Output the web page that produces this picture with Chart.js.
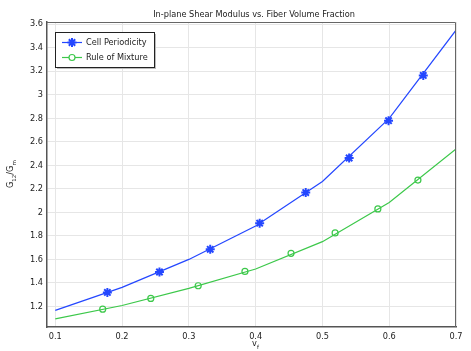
<!DOCTYPE html>
<html>
<head>
<meta charset="utf-8">
<script src="https://cdn.jsdelivr.net/npm/chart.js@4"></script>
<style>
  html, body { margin: 0; padding: 0; background: #fff; }
  #wrap { width: 471px; height: 351px; }
</style>
</head>
<body>
<div id="wrap"><canvas id="chart" width="471" height="351"></canvas></div>
<script>
// curve vertices (fiber volume fraction)
const vf = [0.1, 0.2, 0.3, 0.4, 0.5, 0.6, 0.7];
const cellPeriodicity = [1.166, 1.362, 1.600, 1.885, 2.263, 2.800, 3.550];
const ruleOfMixture = [1.094, 1.208, 1.353, 1.518, 1.751, 2.084, 2.539];

// marker positions along each curve
const cellMarkX = [0.178, 0.256, 0.332, 0.406, 0.475, 0.540, 0.599, 0.651];
const cellMarkY = [1.319, 1.493, 1.686, 1.908, 2.169, 2.463, 2.780, 3.165];
const romMarkX = [0.171, 0.243, 0.314, 0.384, 0.453, 0.519, 0.583, 0.643];
const romMarkY = [1.177, 1.268, 1.376, 1.498, 1.652, 1.825, 2.030, 2.275];

const xTicks = [0.1, 0.2, 0.3, 0.4, 0.5, 0.6, 0.7];
const yTicks = [1.2, 1.4, 1.6, 1.8, 2, 2.2, 2.4, 2.6, 2.8, 3, 3.2, 3.4, 3.6];

const blue = '#2447ff';
const green = '#3cc84a';
const font = 'DejaVu Sans';
const fs = 8.2;

const pts = (xs, ys) => xs.map((x, i) => ({x: x, y: ys[i]}));

// title, axis titles with subscripts, frame and legend box
const decor = {
  id: 'decor',
  afterDraw(chart) {
    const c = chart.ctx, a = chart.chartArea;
    c.save();
    // frame top/right
    c.strokeStyle = '#666';
    c.lineWidth = 1;
    c.beginPath();
    c.moveTo(a.left, a.top + 0.5);
    c.lineTo(a.right - 0.5, a.top + 0.5);
    c.lineTo(a.right - 0.5, a.bottom);
    c.stroke();

    c.fillStyle = '#222';
    c.textBaseline = 'alphabetic';
    c.font = fs + 'px ' + font;
    c.textAlign = 'center';
    c.fillText('In-plane Shear Modulus vs. Fiber Volume Fraction', 254, 17);

    // x title: v_f
    c.textAlign = 'left';
    c.font = fs + 'px ' + font;
    c.fillText('v', 252, 346);
    c.font = '5.5px ' + font;
    c.fillText('f', 257, 349);

    // y title: G_12/G_m
    c.translate(13, 188);
    c.rotate(-Math.PI / 2);
    c.font = fs + 'px ' + font;
    let x = 0;
    c.fillText('G', x, 0); x += c.measureText('G').width;
    c.font = '5.5px ' + font;
    c.fillText('12', x, 2.5); x += c.measureText('12').width;
    c.font = fs + 'px ' + font;
    c.fillText('/G', x, 0); x += c.measureText('/G').width;
    c.font = '5.5px ' + font;
    c.fillText('m', x, 2.5);
    c.restore();

    // legend
    c.save();
    const bx = 55, by = 32, bw = 99, bh = 35;
    c.fillStyle = '#bbb';
    c.fillRect(bx + 2, by + 2, bw, bh);
    c.fillStyle = '#fff';
    c.fillRect(bx, by, bw, bh);
    c.strokeStyle = '#222';
    c.lineWidth = 1;
    c.strokeRect(bx + 0.5, by + 0.5, bw, bh);
    const rows = [
      {label: 'Cell Periodicity', color: blue, fill: blue, style: 'star', r: 4.5, w: 2},
      {label: 'Rule of Mixture', color: green, fill: '#fff', style: 'circle', r: 3, w: 1.2}
    ];
    c.font = fs + 'px ' + font;
    c.textBaseline = 'middle';
    rows.forEach((row, i) => {
      const y = by + 10.5 + i * 15;
      c.strokeStyle = row.color;
      c.lineWidth = 1.2;
      c.beginPath();
      c.moveTo(62, y);
      c.lineTo(82, y);
      c.stroke();
      c.lineWidth = row.w;
      c.fillStyle = row.fill;
      Chart.helpers.drawPoint(c, {pointStyle: row.style, radius: row.r, rotation: 0, borderWidth: row.w}, 72, y);
      c.fillStyle = '#222';
      c.fillText(row.label, 86, y + 0.5);
    });
    c.restore();
  }
};

new Chart(document.getElementById('chart').getContext('2d'), {
  type: 'scatter',
  data: {
    datasets: [
      {
        label: 'Cell Periodicity',
        data: pts(vf, cellPeriodicity),
        showLine: true,
        borderColor: blue,
        borderWidth: 1.2,
        pointRadius: 0,
        tension: 0
      },
      {
        label: 'Rule of Mixture',
        data: pts(vf, ruleOfMixture),
        showLine: true,
        borderColor: green,
        borderWidth: 1.2,
        pointRadius: 0,
        tension: 0
      },
      {
        label: 'cell markers',
        data: pts(cellMarkX, cellMarkY),
        showLine: false,
        pointStyle: 'star',
        pointRadius: 4.5,
        borderColor: blue,
        backgroundColor: blue,
        pointBorderWidth: 2
      },
      {
        label: 'rom markers',
        data: pts(romMarkX, romMarkY),
        showLine: false,
        pointStyle: 'circle',
        pointRadius: 3,
        borderColor: green,
        backgroundColor: 'rgba(0,0,0,0)',
        pointBorderWidth: 1.2
      }
    ]
  },
  options: {
    responsive: false,
    animation: false,
    layout: {padding: {top: 22, right: 15, left: 0, bottom: 0}},
    plugins: {
      legend: {display: false},
      tooltip: {enabled: false},
      title: {display: false}
    },
    scales: {
      x: {
        type: 'linear',
        min: 0.0876,
        max: 0.7,
        afterBuildTicks: s => { s.ticks = xTicks.map(v => ({value: v})); },
        afterFit: s => { s.height = 24; },
        grid: {color: '#e6e6e6', drawTicks: false},
        border: {display: true, color: '#555', width: 1.5},
        ticks: {
          color: '#222', padding: 5,
          font: {family: font, size: fs},
          callback: v => String(v)
        }
      },
      y: {
        min: 1.025,
        max: 3.62,
        afterBuildTicks: s => { s.ticks = yTicks.map(v => ({value: v})); },
        afterFit: s => { s.width = 47; },
        grid: {color: '#e6e6e6', drawTicks: false},
        border: {display: true, color: '#555', width: 1.5},
        ticks: {
          color: '#222', padding: 4,
          font: {family: font, size: fs},
          callback: v => String(v)
        }
      }
    }
  },
  plugins: [decor]
});
</script>
</body>
</html>
